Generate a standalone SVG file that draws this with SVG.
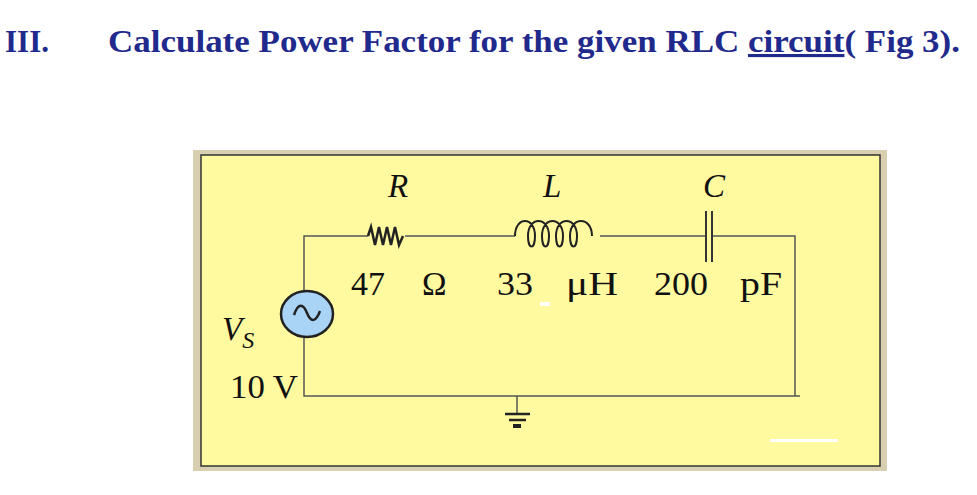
<svg xmlns="http://www.w3.org/2000/svg" width="977" height="495" viewBox="0 0 977 495">
<style>
.t{font-family:"Liberation Serif",serif;font-weight:bold;font-size:31px;fill:#1f2a8c}
.l{font-family:"Liberation Serif",serif;font-size:33px;fill:#111}
.i{font-style:italic}
.w{stroke:#555;stroke-width:1.5;fill:none}
</style>
<rect width="977" height="495" fill="#fff"/>
<g id="title">
<text class="t" x="5" y="52">III.</text>
<text class="t" x="108" y="52" textLength="852" lengthAdjust="spacingAndGlyphs">Calculate Power Factor for the given RLC <tspan text-decoration="underline">circuit</tspan>( Fig 3).</text>
</g>
<rect x="193" y="150" width="694" height="321" fill="#d8cfb0"/>
<rect x="201" y="155" width="679" height="311" fill="#fff9a0" stroke="#333" stroke-width="1.5"/>
<g id="connectors">
<path class="w" d="M304 291 V236 H368 M405 236 H515 M600 236 H706 M712 236 H795 V396 M304 336 V396 H800"/>
<path d="M517 396 V414" class="w"/>
</g>
<g id="resistor"><path d="M368 236 l3 -9 l4 18 l4 -18 l4 18 l4 -18 l4 18 l4 -18 l4 18 l4 -9" stroke="#222" stroke-width="2.5" fill="none"/></g>
<g id="inductor"><path d="M515 236 c0 -20 20 -20 20 0 c0 14 -7 14 -7 0 c0 -20 21 -20 21 0 c0 14 -7 14 -7 0 c0 -20 21 -20 21 0 c0 14 -7 14 -7 0 c0 -20 21 -20 21 0 c0 14 -7 14 -7 0 c0 -20 22 -20 22 0" stroke="#222" stroke-width="2" fill="none"/></g>
<g id="capacitor"><path d="M706 211 V262 M712 211 V262" stroke="#333" stroke-width="2"/></g>
<g id="source"><ellipse cx="307" cy="314" rx="26" ry="23" fill="#a9d4f5" stroke="#222" stroke-width="2.5"/><path d="M294 315 c4 -12 9 -12 13 -2 s9 9 13 -2" stroke="#222" stroke-width="2.5" fill="none"/></g>
<g id="ground"><path d="M505 414 H530 M509 420 H526" stroke="#222" stroke-width="2.5"/><rect x="513" y="424" width="8" height="4" fill="#222"/></g>
<rect x="770" y="439" width="68" height="3" fill="#fff"/>
<rect x="540" y="302" width="10" height="4" fill="#fff"/>
<g id="labels">
<text class="l i" x="388" y="197">R</text>
<text class="l i" x="543" y="197">L</text>
<text class="l i" x="703" y="197">C</text>
<text class="l" x="351" y="295" textLength="34" lengthAdjust="spacingAndGlyphs">47</text>
<text class="l" x="422" y="295">Ω</text>
<text class="l" x="497" y="295" textLength="36" lengthAdjust="spacingAndGlyphs">33</text>
<text class="l" x="566" y="295" textLength="52" lengthAdjust="spacingAndGlyphs">μH</text>
<text class="l" x="654" y="295" textLength="54" lengthAdjust="spacingAndGlyphs">200</text>
<text class="l" x="740" y="295" textLength="42" lengthAdjust="spacingAndGlyphs">pF</text>
<text class="l i" x="222" y="340">V<tspan font-size="24" dy="8">S</tspan></text>
<text class="l" x="230" y="398" textLength="68" lengthAdjust="spacingAndGlyphs">10 V</text>
</g>
</svg>
